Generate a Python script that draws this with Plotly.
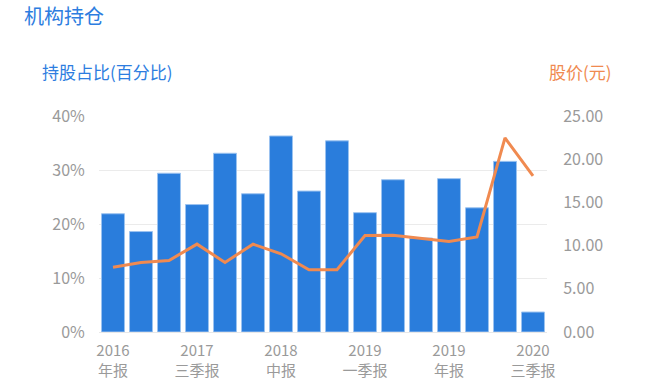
import plotly.graph_objects as go

periods = ["2016年报", "2017一季报", "2017中报", "2017三季报", "2017年报", "2018一季报",
           "2018中报", "2018三季报", "2018年报", "2019一季报", "2019中报", "2019三季报",
           "2019年报", "2020一季报", "2020中报", "2020三季报"]
holding_pct = [21.9, 18.6, 29.4, 23.6, 33.1, 25.6, 36.3, 26.1, 35.4, 22.1, 28.2, 17.4,
               28.4, 23.0, 31.6, 3.7]
price = [7.5, 8.05, 8.28, 10.17, 8.05, 10.17, 9.05, 7.2, 7.2, 11.17, 11.2, 10.86,
         10.47, 11.01, 22.46, 18.07]
tick_idx = [0, 3, 6, 9, 12, 15]
tick_years = ["2016", "2017", "2018", "2019", "2019", "2020"]
tick_kinds = ["年报", "三季报", "中报", "一季报", "年报", "三季报"]
left_ticks = [0, 10, 20, 30, 40]
right_ticks = [0, 5, 10, 15, 20, 25]

FONT = "Noto Sans CJK SC, Microsoft YaHei, sans-serif"
BLUE = "#2A7DDC"
ORANGE = "#F08A50"
GREY = "#9A9A9A"

fig = go.Figure()
fig.add_trace(go.Bar(
    x=periods, y=holding_pct, name="持股占比",
    marker=dict(color=BLUE, line=dict(color="#9CC3F0", width=1)),
    yaxis="y",
))
fig.add_trace(go.Scatter(
    x=periods, y=price, name="股价", mode="lines",
    line=dict(color=ORANGE, width=3),
    yaxis="y2",
))

fig.update_layout(
    width=647, height=390,
    margin=dict(l=99, r=100, t=116, b=58, autoexpand=False),
    paper_bgcolor="white", plot_bgcolor="white",
    showlegend=False,
    bargap=0.18,
    font=dict(family=FONT, color=GREY),
    xaxis=dict(
        type="category",
        categoryorder="array", categoryarray=periods,
        tickmode="array",
        tickvals=[periods[i] for i in tick_idx],
        ticktext=[f"{y}<br>{k}" for y, k in zip(tick_years, tick_kinds)],
        tickangle=0,
        tickfont=dict(size=15, color=GREY, family=FONT),
        ticklabelstandoff=5,
        automargin=False,
        showgrid=False, zeroline=False,
        showline=True, linecolor="#E8E8E8", linewidth=1,
        ticks="", ticklen=0,
        range=[-0.5, 15.5],
    ),
    yaxis=dict(
        range=[0, 40],
        tickmode="array", tickvals=left_ticks,
        ticktext=[f"{v}%" for v in left_ticks],
        tickfont=dict(size=16, color=GREY, family=FONT),
        automargin=False,
        showgrid=True, gridcolor="#EBEBEB", gridwidth=1,
        zeroline=False, showline=False,
        ticks="outside", ticklen=10, tickcolor="rgba(0,0,0,0)",
    ),
    yaxis2=dict(
        range=[0, 25],
        overlaying="y", side="right", anchor="x",
        tickmode="array", tickvals=right_ticks,
        ticktext=[f"{v:.2f}" for v in right_ticks],
        tickfont=dict(size=16, color=GREY, family=FONT),
        automargin=False,
        showgrid=False, zeroline=False, showline=False,
        ticks="outside", ticklen=12, tickcolor="rgba(0,0,0,0)",
    ),
    annotations=[
        dict(text="机构持仓", xref="paper", yref="paper", x=-0.171, y=1.0,
             xanchor="left", yanchor="bottom", yshift=84, showarrow=False,
             font=dict(size=20, color="#2D7DE0", family=FONT)),
        dict(text="持股占比(百分比)", xref="paper", yref="paper", x=-0.131, y=1.0,
             xanchor="left", yanchor="bottom", yshift=30, showarrow=False,
             font=dict(size=17, color="#2D7DE0", family=FONT)),
        dict(text="股价(元)", xref="paper", yref="paper", x=1.0, y=1.0,
             xanchor="left", yanchor="bottom", yshift=30, showarrow=False,
             font=dict(size=17, color=ORANGE, family=FONT)),
    ],
)

fig.write_html("out.html")
